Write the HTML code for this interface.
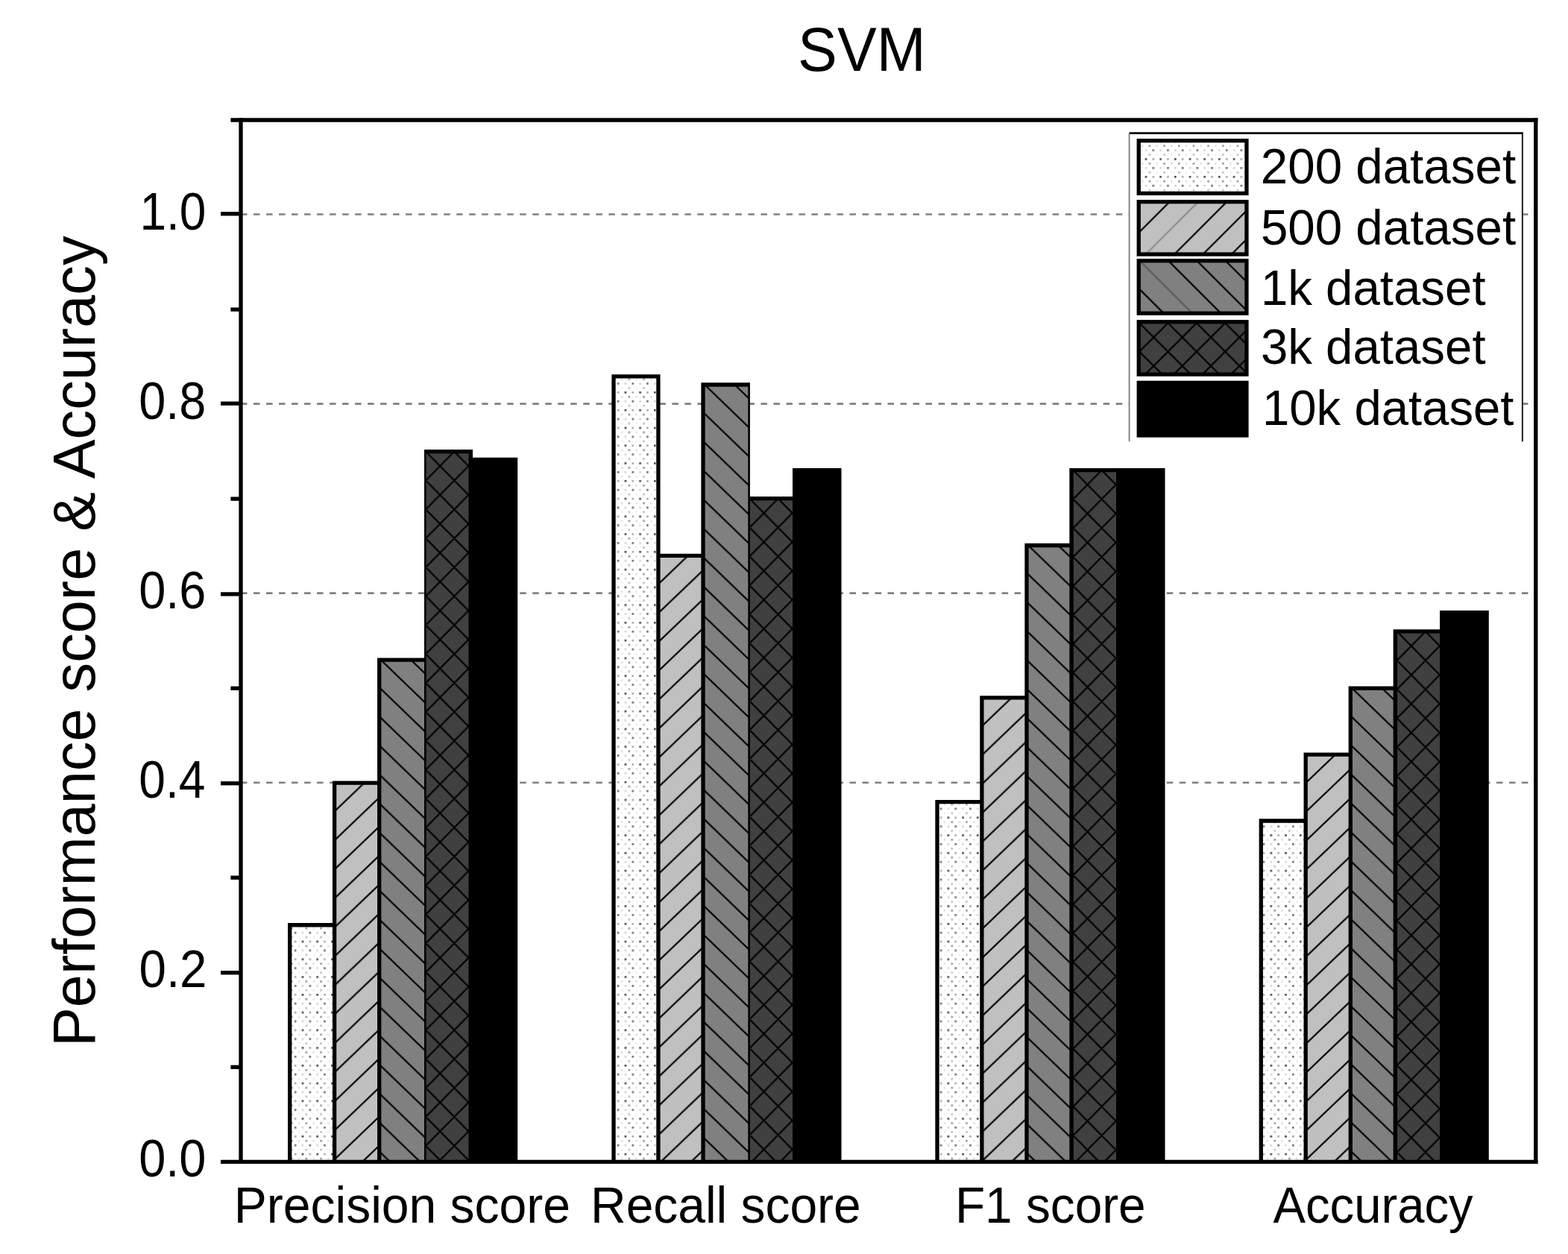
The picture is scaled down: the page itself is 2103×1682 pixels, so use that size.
<!DOCTYPE html>
<html lang="en">
<head>
<meta charset="utf-8">
<title>SVM</title>
<style>
html,body{margin:0;padding:0;background:#fff;}
body{width:2103px;height:1682px;}
svg{display:block;}
text{font-family:"Liberation Sans", sans-serif;fill:#000;}
</style>
</head>
<body>
<svg width="2103" height="1682" viewBox="0 0 2103 1682" role="img" aria-label="SVM performance score and accuracy bar chart">
<defs>
<pattern id="pDot" patternUnits="userSpaceOnUse" width="19.68" height="23.76" x="1.2" y="2.4">
<rect width="19.68" height="23.76" fill="#fff"/>
<rect x="0.00" y="0.00" width="2.63" height="2.63" fill="#aaa"/>
<rect x="9.84" y="0.00" width="2.63" height="2.63" fill="#4a4a4a"/>
<rect x="4.92" y="5.94" width="2.63" height="2.63" fill="#e0e0e0"/>
<rect x="14.76" y="5.94" width="2.63" height="2.63" fill="#999"/>
<rect x="0.00" y="11.88" width="2.63" height="2.63" fill="#707070"/>
<rect x="9.84" y="11.88" width="2.63" height="2.63" fill="#d4d4d4"/>
<rect x="4.92" y="17.82" width="2.63" height="2.63" fill="#f0f0f0"/>
<rect x="14.76" y="17.82" width="2.63" height="2.63" fill="#c0c0c0"/>
</pattern>
<pattern id="pFwd" patternUnits="userSpaceOnUse" width="40.65" height="38.90">
<rect width="40.65" height="38.90" fill="#c0c0c0"/>
<path d="M-40.65 38.20L81.30 -78.50M-40.65 77.10L81.30 -39.60M-40.65 116.00L81.30 -0.70M-40.65 154.90L81.30 38.20" stroke="#000" stroke-width="2.20" fill="none"/>
</pattern>
<pattern id="pBack" patternUnits="userSpaceOnUse" width="40.30" height="38.90">
<rect width="40.30" height="38.90" fill="#808080"/>
<path d="M-40.30 -79.78L80.60 36.92M-40.30 -40.88L80.60 75.82M-40.30 -1.98L80.60 114.72M-40.30 36.92L80.60 153.62" stroke="#000" stroke-width="2.20" fill="none"/>
</pattern>
<pattern id="pCross" patternUnits="userSpaceOnUse" width="38.20" height="38.80">
<rect width="38.20" height="38.80" fill="#404040"/>
<path d="M-38.20 2.52L76.40 -113.88M-38.20 41.32L76.40 -75.08M-38.20 80.12L76.40 -36.28M-38.20 118.92L76.40 2.52M-38.20 -79.93L76.40 36.47M-38.20 -41.13L76.40 75.27M-38.20 -2.33L76.40 114.07M-38.20 36.47L76.40 152.87" stroke="#000" stroke-width="2.20" fill="none"/>
</pattern>
<pattern id="pFwdL" patternUnits="userSpaceOnUse" width="153.40" height="153.40">
<rect width="153.40" height="153.40" fill="#c0c0c0"/>
<path d="M-38.35 123.49L191.75 -106.61M-38.35 276.89L191.75 46.79" stroke="#8c8c8c" stroke-width="2.20" fill="none"/>
<path d="M-38.35 8.44L191.75 -221.66M-38.35 46.79L191.75 -183.31M-38.35 85.14L191.75 -144.96M-38.35 161.84L191.75 -68.26M-38.35 200.19L191.75 -29.91M-38.35 238.54L191.75 8.44M-38.35 315.24L191.75 85.14M-38.35 353.59L191.75 123.49" stroke="#000" stroke-width="2.20" fill="none"/>
</pattern>
<pattern id="pBackL" patternUnits="userSpaceOnUse" width="153.40" height="153.40">
<rect width="153.40" height="153.40" fill="#808080"/>
<path d="M-38.35 -193.13L191.75 36.97M-38.35 -39.73L191.75 190.37M-38.35 113.67L191.75 343.77" stroke="#5c5c5c" stroke-width="2.20" fill="none"/>
<path d="M-38.35 -154.78L191.75 75.32M-38.35 -116.43L191.75 113.67M-38.35 -78.08L191.75 152.02M-38.35 -1.38L191.75 228.72M-38.35 36.97L191.75 267.07M-38.35 75.32L191.75 305.42M-38.35 152.02L191.75 382.12" stroke="#000" stroke-width="2.20" fill="none"/>
</pattern>
<pattern id="pCrossL" patternUnits="userSpaceOnUse" width="38.35" height="38.35">
<rect width="38.35" height="38.35" fill="#404040"/>
<path d="M-38.35 7.67L76.70 -107.38M-38.35 46.02L76.70 -69.03M-38.35 84.37L76.70 -30.68M-38.35 122.72L76.70 7.67M-38.35 -114.44L76.70 0.61M-38.35 -76.09L76.70 38.96M-38.35 -37.74L76.70 77.31M-38.35 0.61L76.70 115.66" stroke="#000" stroke-width="2.20" fill="none"/>
</pattern>
</defs>
<rect width="2103" height="1682" fill="#fff"/>
<g stroke="#808080" stroke-width="2.63" stroke-dasharray="8.5 8.51" stroke-dashoffset="0">
<line x1="323.0" y1="1049.7" x2="2059.8" y2="1049.7"/>
<line x1="323.0" y1="795.6" x2="2059.8" y2="795.6"/>
<line x1="323.0" y1="541.6" x2="2059.8" y2="541.6"/>
<line x1="323.0" y1="287.5" x2="2059.8" y2="287.5"/>
</g>
<g>
<rect x="388.70" y="1240.73" width="59.90" height="317.57" fill="url(#pDot)"/>
<g transform="translate(448.60 1050.19)"><rect x="0.00" y="0" width="60.10" height="508.11" fill="url(#pFwd)"/></g>
<g transform="translate(508.70 885.06)"><rect x="0.00" y="0" width="61.60" height="673.24" fill="url(#pBack)"/></g>
<g transform="translate(568.70 605.60)"><rect x="1.60" y="0" width="61.05" height="952.70" fill="url(#pCross)"/></g>
<rect x="628.70" y="613.75" width="65.50" height="944.55" fill="#000"/>
<path d="M386.05 1238.08H451.25V1243.38H386.05ZM445.95 1047.54H511.35V1052.84H445.95ZM506.05 882.41H571.60V887.71H506.05ZM569.00 602.95H634.00V608.25H569.00ZM386.05 1238.08H391.35V1558.30H386.05ZM445.95 1047.54H451.25V1558.30H445.95ZM506.05 882.41H511.35V1558.30H506.05ZM569.00 602.95H571.60V1558.30H569.00ZM628.70 602.95H634.00V1558.30H628.70Z" fill="#000"/>
</g>
<g>
<rect x="823.00" y="504.97" width="59.90" height="1053.33" fill="url(#pDot)"/>
<g transform="translate(882.90 745.33)"><rect x="0.00" y="0" width="60.10" height="812.97" fill="url(#pFwd)"/></g>
<g transform="translate(943.00 515.98)"><rect x="0.00" y="0" width="61.60" height="1042.32" fill="url(#pBack)"/></g>
<g transform="translate(1003.00 668.71)"><rect x="1.60" y="0" width="61.05" height="889.59" fill="url(#pCross)"/></g>
<rect x="1063.00" y="627.90" width="65.50" height="930.40" fill="#000"/>
<path d="M820.35 502.32H885.55V507.62H820.35ZM880.25 742.68H945.65V747.98H880.25ZM940.35 513.33H1005.90V518.63H940.35ZM1003.30 666.06H1068.30V671.36H1003.30ZM820.35 502.32H825.65V1558.30H820.35ZM880.25 502.32H885.55V1558.30H880.25ZM940.35 513.33H945.65V1558.30H940.35ZM1003.30 513.33H1005.90V1558.30H1003.30ZM1063.00 627.90H1068.30V1558.30H1063.00Z" fill="#000"/>
</g>
<g>
<rect x="1257.00" y="1075.60" width="59.90" height="482.70" fill="url(#pDot)"/>
<g transform="translate(1316.90 935.87)"><rect x="0.00" y="0" width="60.10" height="622.43" fill="url(#pFwd)"/></g>
<g transform="translate(1377.00 731.52)"><rect x="0.00" y="0" width="60.08" height="826.78" fill="url(#pBack)"/></g>
<g transform="translate(1437.00 630.60)"><rect x="0.08" y="0" width="62.58" height="927.70" fill="url(#pCross)"/></g>
<rect x="1497.00" y="627.95" width="65.50" height="930.35" fill="#000"/>
<path d="M1254.35 1072.95H1319.55V1078.25H1254.35ZM1314.25 933.22H1379.65V938.52H1314.25ZM1374.35 728.87H1439.80V734.17H1374.35ZM1434.35 627.95H1502.30V633.25H1434.35ZM1254.35 1072.95H1259.65V1558.30H1254.35ZM1314.25 933.22H1319.55V1558.30H1314.25ZM1374.35 728.87H1379.65V1558.30H1374.35ZM1434.35 627.95H1439.80V1558.30H1434.35ZM1497.00 627.95H1502.30V1558.30H1497.00Z" fill="#000"/>
</g>
<g>
<rect x="1691.30" y="1101.00" width="59.90" height="457.30" fill="url(#pDot)"/>
<g transform="translate(1751.20 1012.08)"><rect x="0.00" y="0" width="60.10" height="546.22" fill="url(#pFwd)"/></g>
<g transform="translate(1811.30 923.16)"><rect x="0.00" y="0" width="60.08" height="635.14" fill="url(#pBack)"/></g>
<g transform="translate(1871.30 846.95)"><rect x="0.08" y="0" width="62.58" height="711.35" fill="url(#pCross)"/></g>
<rect x="1931.30" y="818.89" width="65.50" height="739.41" fill="#000"/>
<path d="M1688.65 1098.35H1753.85V1103.65H1688.65ZM1748.55 1009.43H1813.95V1014.73H1748.55ZM1808.65 920.51H1874.10V925.81H1808.65ZM1868.65 844.30H1936.60V849.60H1868.65ZM1688.65 1098.35H1693.95V1558.30H1688.65ZM1748.55 1009.43H1753.85V1558.30H1748.55ZM1808.65 920.51H1813.95V1558.30H1808.65ZM1868.65 844.30H1874.10V1558.30H1868.65ZM1931.30 818.89H1936.60V1558.30H1931.30Z" fill="#000"/>
</g>
<g stroke="#000" stroke-width="5.30" fill="none" stroke-linecap="butt">
<line x1="323.0" y1="158.35" x2="323.0" y2="1560.95"/>
<line x1="2059.8" y1="158.35" x2="2059.8" y2="1560.95"/>
<line x1="309.4" y1="161.0" x2="2062.45" y2="161.0"/>
<line x1="296.0" y1="1558.3" x2="2062.45" y2="1558.3"/>
<line x1="296" y1="1304.7" x2="323.0" y2="1304.7"/>
<line x1="296" y1="1050.7" x2="323.0" y2="1050.7"/>
<line x1="296" y1="796.9" x2="323.0" y2="796.9"/>
<line x1="296" y1="541.2" x2="323.0" y2="541.2"/>
<line x1="296" y1="286.8" x2="323.0" y2="286.8"/>
<line x1="309.4" y1="1431.3" x2="323.0" y2="1431.3"/>
<line x1="309.4" y1="1177.2" x2="323.0" y2="1177.2"/>
<line x1="309.4" y1="923.2" x2="323.0" y2="923.2"/>
<line x1="309.4" y1="669.1" x2="323.0" y2="669.1"/>
<line x1="309.4" y1="415.1" x2="323.0" y2="415.1"/>
</g>
<text font-size="71" x="186.3" y="1578.1" textLength="90.1" lengthAdjust="spacingAndGlyphs">0.0</text>
<text font-size="71" x="186.5" y="1324.0" textLength="91.0" lengthAdjust="spacingAndGlyphs">0.2</text>
<text font-size="71" x="186.3" y="1070.0" textLength="89.1" lengthAdjust="spacingAndGlyphs">0.4</text>
<text font-size="71" x="186.3" y="815.9" textLength="90.1" lengthAdjust="spacingAndGlyphs">0.6</text>
<text font-size="71" x="186.3" y="561.9" textLength="90.1" lengthAdjust="spacingAndGlyphs">0.8</text>
<text font-size="71" x="187.4" y="307.8" textLength="88.9" lengthAdjust="spacingAndGlyphs">1.0</text>
<text font-size="69" x="313.8" y="1640.1" textLength="451.2" lengthAdjust="spacingAndGlyphs">Precision score</text>
<text font-size="69" x="792.1" y="1640.1" textLength="362.6" lengthAdjust="spacingAndGlyphs">Recall score</text>
<text font-size="69" x="1280.9" y="1640.1" textLength="255.8" lengthAdjust="spacingAndGlyphs">F1 score</text>
<text font-size="69" x="1707.4" y="1640.1" textLength="268.3" lengthAdjust="spacingAndGlyphs">Accuracy</text>
<text font-size="83" x="1070.1" y="95.4" textLength="171.5" lengthAdjust="spacingAndGlyphs">SVM</text>
<text font-size="80" transform="translate(126.6 1404.0) rotate(-90)" x="0" y="0" textLength="1087.5" lengthAdjust="spacingAndGlyphs">Performance score &amp; Accuracy</text>
<rect x="1514.6" y="178.6" width="527.3" height="413.6" fill="#fff"/>
<line x1="1514.6" y1="178.6" x2="2042.9" y2="178.6" stroke="#000" stroke-width="2.6"/>
<line x1="1514.6" y1="178.6" x2="1514.6" y2="592.2" stroke="#888" stroke-width="2"/>
<line x1="2041.9" y1="178.6" x2="2041.9" y2="592.2" stroke="#222" stroke-width="2"/>
<g transform="translate(1524.60 186.00)"><rect x="2.65" y="2.65" width="144.70" height="70.70" fill="url(#pDot)" stroke="#000" stroke-width="5.30"/></g>
<text font-size="67" x="1690.8" y="245.8" textLength="342.3" lengthAdjust="spacingAndGlyphs">200 dataset</text>
<g transform="translate(1524.60 268.00)"><rect x="2.65" y="2.65" width="144.70" height="70.40" fill="url(#pFwdL)" stroke="#000" stroke-width="5.30"/></g>
<text font-size="67" x="1690.9" y="327.8" textLength="342.2" lengthAdjust="spacingAndGlyphs">500 dataset</text>
<g transform="translate(1524.60 347.10)"><rect x="2.65" y="2.65" width="144.70" height="70.50" fill="url(#pBackL)" stroke="#000" stroke-width="5.30"/></g>
<text font-size="67" x="1690.9" y="409.3" textLength="301.7" lengthAdjust="spacingAndGlyphs">1k dataset</text>
<g transform="translate(1524.60 429.10)"><rect x="2.65" y="2.65" width="144.70" height="70.40" fill="url(#pCrossL)" stroke="#000" stroke-width="5.30"/></g>
<text font-size="67" x="1690.9" y="488.4" textLength="301.7" lengthAdjust="spacingAndGlyphs">3k dataset</text>
<g transform="translate(1524.60 510.70)"><rect x="2.65" y="2.65" width="144.70" height="70.70" fill="#000" stroke="#000" stroke-width="5.30"/></g>
<text font-size="67" x="1693.0" y="570.0" textLength="337.5" lengthAdjust="spacingAndGlyphs">10k dataset</text>
</svg>
</body>
</html>
